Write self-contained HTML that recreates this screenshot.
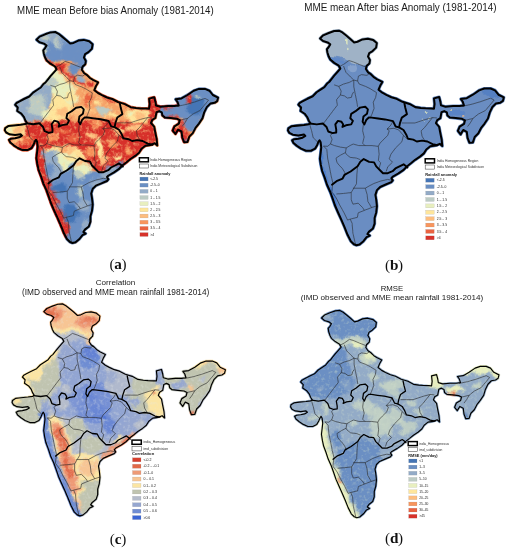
<!DOCTYPE html><html><head><meta charset="utf-8"><title>Figure</title>
<style>html,body{margin:0;padding:0;background:#fff}svg{display:block}text{font-family:"Liberation Sans",sans-serif}.ser{font-family:"Liberation Serif",serif}</style></head><body>
<svg width="510" height="550" viewBox="0 0 510 550">
<defs>
<path id="india" d="M36.5 39.7 L39.6 36.6 L45.1 34.3 L50.5 32.4 L55.2 32.0 L58.6 33.8 L62.1 36.6 L66.1 39.9 L70.2 43.6 L73.5 42.9 L78.4 40.6 L83.7 39.9 L89.1 41.3 L92.6 44.2 L91.9 48.7 L88.4 52.1 L85.1 54.1 L83.9 57.5 L85.8 60.9 L85.3 64.2 L82.6 66.6 L81.8 69.7 L84.0 73.0 L86.7 74.8 L90.0 78.0 L93.0 79.9 L98.1 82.4 L96.0 86.0 L94.3 90.1 L98.0 93.0 L102.0 95.2 L107.0 97.5 L112.2 99.0 L118.0 102.0 L124.9 104.1 L130.6 107.2 L136.0 108.0 L140.8 108.4 L146.0 108.6 L149.1 108.7 L149.7 104.2 L149.1 98.6 L154.2 97.3 L155.4 101.8 L156.0 105.5 L160.5 106.8 L168.0 106.1 L174.3 106.1 L178.7 105.5 L177.5 101.8 L175.6 99.2 L181.5 98.4 L187.5 95.0 L193.7 90.7 L198.9 88.9 L205.0 88.9 L209.4 90.7 L212.8 95.0 L218.1 97.6 L217.2 101.1 L214.6 102.8 L210.3 103.6 L206.8 107.1 L204.2 112.4 L202.4 118.4 L198.9 123.6 L195.5 127.9 L192.8 133.1 L189.3 136.6 L187.5 141.9 L184.1 142.2 L182.3 137.5 L181.5 131.5 L178.0 129.7 L175.4 134.0 L172.7 130.6 L174.5 126.3 L178.9 123.6 L179.7 120.2 L176.8 118.7 L170.6 118.0 L164.8 117.4 L162.4 115.5 L161.8 112.4 L159.2 111.1 L156.5 112.2 L156.0 114.8 L155.4 118.0 L152.3 119.9 L151.0 123.0 L154.2 126.7 L155.4 133.0 L156.7 139.3 L157.3 145.5 L154.8 143.3 L150.9 144.9 L145.4 145.7 L141.5 148.8 L139.1 152.7 L135.2 155.9 L130.5 159.0 L126.6 162.2 L122.6 165.3 L118.7 169.2 L114.0 172.4 L108.5 175.5 L107.0 177.0 L108.4 179.3 L106.9 181.0 L101.4 183.3 L95.9 185.7 L92.7 188.8 L91.2 193.5 L92.0 198.2 L92.7 204.5 L92.0 210.8 L90.4 216.3 L90.4 221.8 L88.8 226.5 L84.9 229.6 L83.3 232.0 L85.7 233.5 L82.5 235.1 L79.4 239.0 L75.5 242.2 L72.5 243.0 L70.0 242.0 L66.9 239.0 L63.7 232.7 L60.6 224.9 L57.5 217.8 L54.3 210.8 L51.2 203.7 L48.8 196.7 L46.5 190.4 L43.3 183.3 L41.0 176.3 L38.6 170.0 L37.3 164.0 L36.4 158.0 L37.1 152.2 L37.7 146.7 L37.1 141.8 L36.0 139.8 L35.0 141.2 L33.6 144.6 L31.6 148.0 L27.5 150.1 L22.6 150.1 L17.8 148.0 L13.7 145.3 L10.3 142.5 L8.9 139.8 L11.0 138.7 L15.1 138.2 L19.2 137.3 L22.0 135.6 L20.6 134.2 L15.1 135.0 L9.6 134.3 L6.2 132.5 L4.8 130.2 L5.2 128.1 L8.2 126.1 L13.7 125.4 L20.6 124.7 L25.4 124.0 L27.0 123.0 L25.4 120.6 L24.0 117.2 L21.3 113.7 L17.2 111.0 L17.8 107.5 L15.1 104.8 L16.5 103.0 L19.1 101.6 L24.0 99.0 L29.3 96.5 L33.1 92.6 L37.0 90.0 L40.8 87.5 L43.5 84.0 L45.5 82.5 L47.8 79.6 L50.5 76.2 L53.9 72.4 L56.6 69.3 L55.0 66.5 L50.5 63.7 L46.6 60.4 L45.1 57.5 L43.8 53.5 L43.3 50.3 L45.1 48.1 L46.6 45.5 L44.0 43.6 L39.5 42.2Z"/>
<clipPath id="cp"><use href="#india"/></clipPath>
<mask id="mk1" maskUnits="userSpaceOnUse" x="0" y="20" width="230" height="235"><use href="#india" fill="#fff" stroke="#fff" stroke-width="3.2" stroke-linejoin="round"/></mask>
<mask id="mk2" maskUnits="userSpaceOnUse" x="0" y="20" width="230" height="235"><use href="#india" fill="#fff" stroke="#fff" stroke-width="2.6" stroke-linejoin="round"/></mask>
<filter id="bl1" x="0" y="0" width="100%" height="100%" color-interpolation-filters="sRGB"><feGaussianBlur stdDeviation="0.9" result="b"/><feTurbulence type="fractalNoise" baseFrequency="0.11" numOctaves="3" seed="4" result="n1"/><feDisplacementMap in="b" in2="n1" scale="9" xChannelSelector="R" yChannelSelector="G" result="d"/><feTurbulence type="fractalNoise" baseFrequency="0.3" numOctaves="2" seed="11" result="n2"/><feColorMatrix in="n2" type="matrix" values="0 0 0 0 1  0 0 0 0 0.86  0 0 0 0 0.58  0 0 0 1.6 -0.8" result="n3"/><feColorMatrix in="d" type="matrix" values="0 0 0 0 0  0 0 0 0 0  0 0 0 0 0  1.6 0 -1.0 0 0.12" result="wm"/><feComposite in="n3" in2="wm" operator="in" result="n4"/><feComposite in="n4" in2="d" operator="atop" result="m"/><feGaussianBlur in="m" stdDeviation="0.55"/></filter>
<filter id="blc" x="0" y="0" width="100%" height="100%" color-interpolation-filters="sRGB"><feGaussianBlur stdDeviation="0.9" result="b"/><feTurbulence type="fractalNoise" baseFrequency="0.11" numOctaves="3" seed="5" result="n1"/><feDisplacementMap in="b" in2="n1" scale="9" xChannelSelector="R" yChannelSelector="G" result="d"/><feTurbulence type="fractalNoise" baseFrequency="0.3" numOctaves="2" seed="11" result="n2"/><feColorMatrix in="n2" type="matrix" values="0 0 0 0 0.9  0 0 0 0 0.91  0 0 0 0 0.9  0 0 0 1.0 -0.5" result="n3"/><feOffset in="n3" result="n4"/><feComposite in="n4" in2="d" operator="atop" result="m"/><feGaussianBlur in="m" stdDeviation="0.55"/></filter>
<filter id="bld" x="0" y="0" width="100%" height="100%" color-interpolation-filters="sRGB"><feGaussianBlur stdDeviation="0.9" result="b"/><feTurbulence type="fractalNoise" baseFrequency="0.11" numOctaves="3" seed="6" result="n1"/><feDisplacementMap in="b" in2="n1" scale="9" xChannelSelector="R" yChannelSelector="G" result="d"/><feTurbulence type="fractalNoise" baseFrequency="0.3" numOctaves="2" seed="11" result="n2"/><feColorMatrix in="n2" type="matrix" values="0 0 0 0 0.82  0 0 0 0 0.88  0 0 0 0 0.8  0 0 0 1.1 -0.56" result="n3"/><feOffset in="n3" result="n4"/><feComposite in="n4" in2="d" operator="atop" result="m"/><feGaussianBlur in="m" stdDeviation="0.55"/></filter>
<filter id="bl0" x="0" y="0" width="100%" height="100%" color-interpolation-filters="sRGB"><feGaussianBlur stdDeviation="0.5" result="b"/><feTurbulence type="fractalNoise" baseFrequency="0.15" numOctaves="3" seed="9" result="n1"/><feDisplacementMap in="b" in2="n1" scale="5" xChannelSelector="R" yChannelSelector="G"/></filter>
<filter id="bl2" x="-20%" y="-20%" width="140%" height="140%"><feGaussianBlur stdDeviation="2.2"/></filter>
<filter id="soft" x="-5%" y="-5%" width="110%" height="110%"><feGaussianBlur stdDeviation="0.35"/></filter>
</defs>
<rect width="510" height="550" fill="#fff"/>
<g transform="translate(0 0) scale(1.0 1.0)">
<g mask="url(#mk1)">
<g filter="url(#bl1)">
<rect x="0" y="20" width="230" height="235" fill="#f29a63"/>
<path d="M78.0 84.0 L96.0 82.0 L100.0 96.0 L124.0 104.0 L150.0 108.0 L152.0 124.0 L124.0 124.0 L100.0 120.0 L84.0 118.0 L72.0 120.0 L66.0 108.0 L70.0 96.0Z" fill="#f6a368"/>
<ellipse cx="103" cy="110" rx="7" ry="4" fill="#bccbc4"/>
<ellipse cx="97" cy="103" rx="4" ry="2.5" fill="#fee69c"/>
<ellipse cx="113" cy="115" rx="6" ry="2.5" fill="#fee69c"/>
<ellipse cx="88" cy="98" rx="4" ry="6" fill="#ea6240"/>
<ellipse cx="92" cy="112" rx="4" ry="3" fill="#fdbd7e"/>
<path d="M96.0 91.0 L110.0 99.0 L128.0 105.5 L148.0 109.0" fill="none" stroke="#ea6240" stroke-width="4" stroke-linecap="round" stroke-linejoin="round"/>
<path d="M100.0 94.0 L114.0 101.0" fill="none" stroke="#d7302a" stroke-width="2" stroke-linecap="round" stroke-linejoin="round"/>
<path d="M126.0 109.0 L149.0 111.0 L150.0 121.0 L128.0 122.0Z" fill="#fee69c"/>
<ellipse cx="140" cy="116" rx="6" ry="3" fill="#fdbd7e"/>
<ellipse cx="131" cy="113" rx="3" ry="2" fill="#e8efbf"/>
<path d="M44.0 74.0 L56.0 66.0 L66.0 76.0 L76.0 88.0 L80.0 102.0 L70.0 106.0 L60.0 102.0 L50.0 94.0 L40.0 92.0Z" fill="#e8efbf"/>
<ellipse cx="50" cy="82" rx="7" ry="6" fill="#bccbc4"/>
<ellipse cx="72" cy="96" rx="5" ry="7" fill="#fee69c"/>
<path d="M12.0 100.0 L30.0 90.0 L42.0 82.0 L50.0 90.0 L52.0 102.0 L48.0 112.0 L38.0 120.0 L24.0 123.0 L14.0 114.0Z" fill="#93abc7"/>
<ellipse cx="36" cy="106" rx="10" ry="8" fill="#bccbc4"/>
<ellipse cx="40" cy="98" rx="5" ry="5" fill="#bccbc4"/>
<ellipse cx="24" cy="102" rx="6" ry="4" fill="#93abc7"/>
<ellipse cx="46" cy="114" rx="5" ry="5" fill="#e8efbf"/>
<path d="M52.0 94.0 L64.0 98.0 L72.0 108.0 L68.0 118.0 L56.0 121.0 L46.0 121.0 L51.0 108.0Z" fill="#fee69c"/>
<ellipse cx="62" cy="112" rx="6" ry="5" fill="#fdbd7e"/>
<path d="M22.0 124.0 L40.0 121.0 L56.0 123.0 L70.0 119.0 L82.0 123.0 L100.0 119.0 L122.0 123.0 L152.0 124.0 L158.0 140.0 L142.0 152.0 L124.0 166.0 L110.0 170.0 L98.0 170.0 L88.0 164.0 L82.0 156.0 L78.0 148.0 L66.0 146.0 L56.0 146.0 L46.0 150.0 L40.0 160.0 L34.0 152.0 L28.0 150.0 L22.0 142.0Z" fill="#d7302a"/>
<ellipse cx="78" cy="112" rx="7" ry="5" fill="#fdbd7e"/>
<ellipse cx="84" cy="108" rx="4" ry="3" fill="#fee69c"/>
<ellipse cx="62" cy="132" rx="7" ry="3" fill="#ea6240"/>
<ellipse cx="74" cy="138" rx="6" ry="4" fill="#ea6240"/>
<ellipse cx="52" cy="138" rx="5" ry="4" fill="#f8955d"/>
<path d="M46.0 150.0 L56.0 145.0 L68.0 146.0 L78.0 148.0 L85.0 154.0 L85.0 162.0 L78.0 168.0 L66.0 172.0 L58.0 168.0 L52.0 160.0Z" fill="#fee69c"/>
<ellipse cx="70" cy="150" rx="8" ry="3.5" fill="#fdbd7e"/>
<ellipse cx="62" cy="150" rx="4" ry="3" fill="#f8955d"/>
<ellipse cx="80" cy="160" rx="4" ry="5" fill="#fdbd7e"/>
<ellipse cx="100" cy="148" rx="3.5" ry="12" fill="#fee69c"/>
<ellipse cx="92" cy="136" rx="5" ry="4" fill="#fdbd7e"/>
<ellipse cx="112" cy="142" rx="5" ry="6" fill="#f8955d"/>
<ellipse cx="120" cy="132" rx="6" ry="3" fill="#fdbd7e"/>
<ellipse cx="134" cy="128" rx="8" ry="3.5" fill="#fdbd7e"/>
<ellipse cx="128" cy="150" rx="4" ry="5" fill="#f8955d"/>
<ellipse cx="90" cy="152" rx="4" ry="5" fill="#f8955d"/>
<ellipse cx="105" cy="160" rx="4" ry="4" fill="#fdbd7e"/>
<ellipse cx="118" cy="158" rx="4" ry="3" fill="#fee69c"/>
<ellipse cx="96" cy="124" rx="6" ry="3" fill="#f8955d"/>
<ellipse cx="146" cy="132" rx="6" ry="8" fill="#d7302a"/>
<ellipse cx="152" cy="118" rx="3" ry="8" fill="#d7302a"/>
<path d="M3.0 125.0 L24.0 122.0 L26.0 136.0 L6.0 137.0Z" fill="#fee69c"/>
<ellipse cx="19" cy="130" rx="5" ry="4" fill="#fdbd7e"/>
<ellipse cx="9" cy="129" rx="3" ry="3" fill="#e8efbf"/>
<path d="M7.0 138.0 L22.0 136.0 L36.0 138.0 L36.0 150.0 L24.0 153.0 L12.0 148.0Z" fill="#ea6240"/>
<ellipse cx="18" cy="141" rx="7" ry="3" fill="#fdbd7e"/>
<ellipse cx="24" cy="147" rx="7" ry="3" fill="#d7302a"/>
<path d="M26.0 124.0 L42.0 123.0 L46.0 138.0 L42.0 152.0 L36.0 150.0 L34.0 138.0Z" fill="#d7302a"/>
<path d="M43.0 152.0 L56.0 150.0 L60.0 160.0 L62.0 172.0 L57.0 180.0 L50.0 185.0 L45.0 176.0 L42.0 164.0Z" fill="#93abc7"/>
<ellipse cx="50" cy="170" rx="4" ry="8" fill="#6b8fc3"/>
<path d="M55.0 152.0 L70.0 153.0 L79.0 159.0 L77.0 167.0 L66.0 171.0 L60.0 168.0Z" fill="#e8efbf"/>
<ellipse cx="70" cy="158" rx="5" ry="3" fill="#fee69c"/>
<path d="M42.0 186.0 L50.0 183.0 L58.0 178.0 L62.0 172.0 L70.0 166.0 L76.0 160.0 L84.0 163.0 L92.0 171.0 L100.0 172.0 L108.0 166.0 L116.0 164.0 L126.0 164.0 L112.0 180.0 L98.0 192.0 L97.0 215.0 L90.0 235.0 L72.0 248.0 L58.0 232.0 L48.0 205.0Z" fill="#6b8fc3"/>
<ellipse cx="84" cy="168" rx="9" ry="6" fill="#e8efbf"/>
<ellipse cx="80" cy="162" rx="5" ry="3" fill="#fdbd7e"/>
<ellipse cx="78" cy="176" rx="6" ry="5" fill="#bccbc4"/>
<ellipse cx="108" cy="172" rx="10" ry="4" fill="#93abc7" transform="rotate(-30 108 172)"/>
<ellipse cx="96" cy="184" rx="6" ry="5" fill="#93abc7"/>
<ellipse cx="80" cy="192" rx="3" ry="6" fill="#bccbc4"/>
<ellipse cx="60" cy="188" rx="7" ry="6" fill="#4575b5"/>
<ellipse cx="70" cy="214" rx="8" ry="10" fill="#4575b5" transform="rotate(20 70 214)"/>
<ellipse cx="84" cy="206" rx="6" ry="8" fill="#93abc7"/>
<ellipse cx="86" cy="225" rx="4" ry="6" fill="#93abc7"/>
<path d="M36.4 150.0 L36.4 158.0 L37.3 164.0 L38.6 170.0 L41.0 176.3 L43.3 183.3 L46.5 190.4 L48.8 196.7 L51.2 203.7 L54.3 210.8 L57.5 217.8 L60.6 224.9 L63.7 232.7" fill="none" stroke="#d7302a" stroke-width="12" stroke-linecap="round" stroke-linejoin="round"/>
<path d="M38.0 148.0 L39.0 158.0 L40.5 166.0 L43.0 174.0 L46.0 182.0 L49.0 190.0" fill="none" stroke="#d7302a" stroke-width="8" stroke-linecap="round" stroke-linejoin="round"/>
<path d="M37.0 146.0 L36.4 152.0" fill="none" stroke="#d7302a" stroke-width="8" stroke-linecap="round" stroke-linejoin="round"/>
<path d="M28.0 26.0 L100.0 26.0 L100.0 58.0 L88.0 62.0 L82.0 66.0 L72.0 61.0 L64.0 59.0 L54.0 62.0 L46.0 58.0 L28.0 50.0Z" fill="#6b8fc3"/>
<path d="M32.0 38.0 L42.0 32.0 L52.0 29.0 L60.0 32.0 L63.0 40.0 L61.0 54.0 L56.0 50.0 L52.0 44.0 L46.0 46.0 L40.0 44.0Z" fill="#93abc7"/>
<ellipse cx="50" cy="46" rx="4" ry="6" fill="#6b8fc3"/>
<ellipse cx="44" cy="50" rx="3" ry="4" fill="#bccbc4"/>
<ellipse cx="57.5" cy="44" rx="2.2" ry="8" fill="#bccbc4"/>
<ellipse cx="45" cy="39" rx="4" ry="2.5" fill="#bccbc4"/>
<ellipse cx="82" cy="80" rx="3.5" ry="4.5" fill="#93abc7"/>
<ellipse cx="74.5" cy="70.5" rx="5.5" ry="7" fill="#6b8fc3"/>
<ellipse cx="81" cy="66" rx="3" ry="3" fill="#6b8fc3"/>
<path d="M47.0 61.0 L56.0 67.0 L66.0 74.0 L76.0 82.0 L84.0 87.0" fill="none" stroke="#d7302a" stroke-width="3" stroke-linecap="round" stroke-linejoin="round"/>
<ellipse cx="62" cy="67" rx="4.5" ry="4" fill="#d7302a"/>
<ellipse cx="91" cy="84" rx="3.5" ry="3" fill="#d7302a"/>
<path d="M58.0 72.0 L68.0 80.0 L78.0 88.0" fill="none" stroke="#fdbd7e" stroke-width="2.5" stroke-linecap="round" stroke-linejoin="round"/>
<path d="M160.0 100.0 L175.0 96.0 L190.0 88.0 L210.0 84.0 L222.0 96.0 L210.0 108.0 L202.0 120.0 L192.0 132.0 L184.0 128.0 L182.0 118.0 L160.0 117.0 L156.0 110.0Z" fill="#6b8fc3"/>
<ellipse cx="196" cy="106" rx="10" ry="8" fill="#4575b5" transform="rotate(-40 196 106)"/>
<ellipse cx="189" cy="99" rx="3.2" ry="4.5" fill="#d7302a"/>
<ellipse cx="198" cy="96.5" rx="2.5" ry="2" fill="#bccbc4"/>
<path d="M150.0 108.0 L158.0 106.5 L168.0 106.5 L177.0 105.5" fill="none" stroke="#d7302a" stroke-width="3" stroke-linecap="round" stroke-linejoin="round"/>
<path d="M148.0 96.0 L160.0 96.0 L160.0 112.0 L148.0 112.0Z" fill="#d7302a"/>
<path d="M164.0 116.5 L178.0 117.5" fill="none" stroke="#d7302a" stroke-width="2.5" stroke-linecap="round" stroke-linejoin="round"/>
<path d="M170.0 120.0 L182.0 120.0 L184.0 130.0 L190.0 140.0 L184.0 144.0 L176.0 134.0 L170.0 132.0Z" fill="#d7302a"/>
<ellipse cx="177" cy="125" rx="3" ry="2.5" fill="#fdbd7e"/>
<ellipse cx="186" cy="139" rx="2" ry="2" fill="#6b8fc3"/>
</g>
</g>
<g filter="url(#soft)"><g fill="none" stroke="#222" stroke-width="0.55" stroke-linejoin="round">
<path d="M55.0 67.6 L59.7 65.2 L65.1 61.4 L69.8 62.9 L75.2 65.2 L81.4 67.6 L84.5 66.0"/>
<path d="M59.7 66.8 L62.1 73.0 L66.7 77.6 L69.8 80.6 L69.8 86.8 L71.3 94.5 L72.9 102.2 L73.6 106.9"/>
<path d="M73.6 81.5 L74.4 76.8 L77.5 75.2 L82.9 76.0 L85.9 73.6"/>
<path d="M69.8 80.6 L73.6 81.5 L75.2 84.5 L81.4 86.8 L86.1 89.1 L92.3 92.9"/>
<path d="M50.4 85.3 L55.0 86.8 L59.7 84.5 L65.1 83.0 L69.8 80.6"/>
<path d="M55.0 86.8 L57.4 91.4 L56.6 95.3 L60.5 96.1 L63.6 98.3 L67.5 97.6 L68.3 94.5 L69.8 92.2"/>
<path d="M56.6 95.3 L52.8 99.9 L53.6 105.3 L48.8 111.5 L44.2 117.6 L39.5 123.8"/>
<path d="M92.3 92.9 L91.5 97.6 L89.1 102.3 L89.9 108.4 L87.6 114.6 L86.1 117.6"/>
<path d="M117.3 122.8 L123.4 122.8 L130.3 122.8 L135.6 121.0 L140.8 119.3 L147.7 117.5 L152.1 117.9"/>
<path d="M147.7 117.5 L144.2 121.8 L139.9 127.1 L136.4 130.6 L137.3 135.8 L139.9 140.1"/>
<path d="M79.3 124.2 L78.6 130.4 L80.1 136.6 L78.6 142.7 L80.9 145.0"/>
<path d="M46.8 143.5 L50.7 145.0 L56.9 146.6 L62.4 147.3 L66.2 145.0 L69.3 143.5 L74.7 145.0 L80.9 145.0 L87.9 145.0 L94.1 145.8 L95.7 142.7 L98.7 139.6 L103.4 135.0 L104.9 130.4 L102.7 128.8 L109.6 128.0 L114.2 129.6"/>
<path d="M108.6 121.0 L106.6 124.8 L102.7 128.8"/>
<path d="M48.9 132.8 L46.8 135.0 L48.4 138.8 L46.8 143.5"/>
<path d="M46.8 143.5 L43.8 145.8 L39.9 145.4"/>
<path d="M62.4 147.3 L61.6 151.9 L56.9 154.3 L52.3 157.3 L53.1 161.3 L55.3 164.3 L58.5 167.4 L60.8 171.3 L61.6 174.3"/>
<path d="M61.6 151.9 L62.4 153.5 L66.2 156.6 L72.4 157.3 L76.3 158.9"/>
<path d="M94.1 145.8 L94.9 153.5 L94.1 159.7 L96.4 161.9 L94.8 167.6"/>
<path d="M114.2 129.6 L118.9 135.0 L117.4 141.2 L111.2 147.3 L106.5 153.5 L104.9 158.1 L108.1 161.3 L103.4 165.9 L101.9 170.5"/>
<path d="M118.9 135.0 L122.4 138.3"/>
<path d="M26.3 124.2 L28.1 130.3 L29.7 137.2 L34.1 141.5"/>
<path d="M39.9 145.4 L43.2 148.8 L44.0 157.4 L45.8 166.1 L47.5 174.8 L49.2 181.8"/>
<path d="M73.6 165.3 L72.8 174.8 L72.5 182.6 L69.9 186.9 L67.3 191.2 L67.3 198.2 L69.0 202.6 L74.2 201.7 L78.6 206.0 L80.3 208.7 L74.2 211.2 L73.4 215.6 L66.4 217.3 L68.2 221.6 L69.0 231.2 L71.6 242.5"/>
<path d="M69.0 186.9 L81.2 186.9 L89.0 182.6 L96.0 180.0 L103.3 178.3 L108.5 179.2"/>
<path d="M81.2 186.9 L83.0 193.0 L83.8 200.0 L87.4 206.0 L92.6 204.3"/>
<path d="M80.3 208.7 L87.4 206.0"/>
<path d="M49.2 181.8 L48.1 190.5 L52.5 196.5 L55.9 203.4 L60.3 211.2 L63.7 218.2 L66.4 217.3"/>
<path d="M67.3 191.2 L59.7 192.1 L52.8 192.6"/>
<path d="M177.2 106.3 L185.9 104.5 L194.6 102.0 L205.0 98.4 L208.5 100.2 L204.2 105.4 L199.8 110.6 L192.8 114.1 L187.5 118.4 L185.0 122.7 L182.3 126.3"/>
<path d="M179.7 120.2 L187.5 118.4"/>
</g>
<g fill="none" stroke="#000" stroke-width="1.9" stroke-linejoin="round" stroke-linecap="round">
<path d="M26.3 123.3 L33.3 124.2 L39.3 123.3 L42.9 126.7 L44.6 131.2 L48.9 132.8 L52.5 132.1 L52.5 129.4 L51.6 124.2 L54.2 120.7 L57.7 121.6 L59.4 124.2 L58.6 126.7 L62.1 125.1 L67.3 124.2 L69.0 120.7 L66.4 118.1 L67.3 113.8 L71.6 111.2 L76.0 107.7 L81.2 106.9 L83.8 109.4 L82.9 113.8 L79.4 116.4 L78.6 121.6 L80.3 124.2 L82.1 119.9 L84.7 117.4 L87.6 117.5 L93.8 118.4 L100.7 119.3 L108.6 121.0 L111.2 126.3 L114.6 127.1"/>
<path d="M119.9 103.6 L120.8 108.1 L122.4 114.1 L117.3 117.5 L115.5 122.8 L114.6 127.1 L119.0 129.7 L121.6 134.0 L123.4 138.3 L128.6 139.2 L132.1 141.0 L137.3 140.1 L142.6 141.0 L147.7 143.6 L152.6 144.7"/>
<path d="M48.3 183.5 L52.8 180.0 L58.8 177.4 L60.6 173.9 L66.7 170.5 L73.6 165.3 L76.3 161.0 L79.7 158.3 L85.0 161.0 L89.9 161.5 L92.0 165.5 L96.0 169.5 L98.7 172.2 L103.5 172.2 L108.2 170.2 L111.0 167.5 L115.0 165.5 L119.1 163.4 L121.8 165.5 L122.9 166.6"/>
</g>
<use href="#india" fill="none" stroke="#000" stroke-width="2.0" stroke-linejoin="round"/></g>
</g>
<g transform="translate(283.1 -1.9) scale(1.012 1.017)">
<g mask="url(#mk1)">
<g filter="url(#bl0)">
<rect x="0" y="20" width="230" height="235" fill="#6a8dc2"/>
<path d="M28.0 26.0 L100.0 26.0 L100.0 60.0 L88.0 66.0 L80.0 66.5 L72.0 64.5 L66.0 62.5 L62.0 59.5 L54.0 58.0 L46.0 57.0 L40.0 54.0 L28.0 50.0Z" fill="#9fb2c6"/>
<path d="M47.0 59.5 L55.0 61.0 L61.0 63.5" fill="none" stroke="#5f88c8" stroke-width="3" stroke-linecap="round" stroke-linejoin="round"/>
<ellipse cx="69" cy="69" rx="4" ry="4" fill="#86a2cc"/>
<ellipse cx="63" cy="43" rx="0.7" ry="2.6" fill="#e8efbf"/>
<ellipse cx="64" cy="50" rx="0.6" ry="1.2" fill="#e8efbf"/>
<path d="M36.4 150.0 L36.4 158.0 L37.3 164.0 L38.6 170.0 L41.0 176.3 L43.3 183.3 L46.5 190.4 L48.8 196.7 L51.2 203.7" fill="none" stroke="#4f80cc" stroke-width="5" stroke-linecap="round" stroke-linejoin="round"/>
<ellipse cx="205" cy="93" rx="9" ry="5" fill="#5580c2" transform="rotate(25 205 93)"/>
<ellipse cx="172" cy="113" rx="8" ry="3.5" fill="#5a84c6"/>
<ellipse cx="166" cy="111" rx="1" ry="0.8" fill="#fee69c"/>
<ellipse cx="178" cy="116" rx="1.2" ry="0.8" fill="#fdbd7e"/>
<ellipse cx="141" cy="112" rx="1.0" ry="0.8" fill="#e8efbf"/>
<ellipse cx="144" cy="118" rx="1.2" ry="0.8" fill="#bccbc4"/>
<ellipse cx="138" cy="120" rx="1.0" ry="0.8" fill="#bccbc4"/>
</g>
</g>
<g filter="url(#soft)"><g fill="none" stroke="#222" stroke-width="0.55" stroke-linejoin="round">
<path d="M55.0 67.6 L59.7 65.2 L65.1 61.4 L69.8 62.9 L75.2 65.2 L81.4 67.6 L84.5 66.0"/>
<path d="M59.7 66.8 L62.1 73.0 L66.7 77.6 L69.8 80.6 L69.8 86.8 L71.3 94.5 L72.9 102.2 L73.6 106.9"/>
<path d="M73.6 81.5 L74.4 76.8 L77.5 75.2 L82.9 76.0 L85.9 73.6"/>
<path d="M69.8 80.6 L73.6 81.5 L75.2 84.5 L81.4 86.8 L86.1 89.1 L92.3 92.9"/>
<path d="M50.4 85.3 L55.0 86.8 L59.7 84.5 L65.1 83.0 L69.8 80.6"/>
<path d="M55.0 86.8 L57.4 91.4 L56.6 95.3 L60.5 96.1 L63.6 98.3 L67.5 97.6 L68.3 94.5 L69.8 92.2"/>
<path d="M56.6 95.3 L52.8 99.9 L53.6 105.3 L48.8 111.5 L44.2 117.6 L39.5 123.8"/>
<path d="M92.3 92.9 L91.5 97.6 L89.1 102.3 L89.9 108.4 L87.6 114.6 L86.1 117.6"/>
<path d="M117.3 122.8 L123.4 122.8 L130.3 122.8 L135.6 121.0 L140.8 119.3 L147.7 117.5 L152.1 117.9"/>
<path d="M147.7 117.5 L144.2 121.8 L139.9 127.1 L136.4 130.6 L137.3 135.8 L139.9 140.1"/>
<path d="M79.3 124.2 L78.6 130.4 L80.1 136.6 L78.6 142.7 L80.9 145.0"/>
<path d="M46.8 143.5 L50.7 145.0 L56.9 146.6 L62.4 147.3 L66.2 145.0 L69.3 143.5 L74.7 145.0 L80.9 145.0 L87.9 145.0 L94.1 145.8 L95.7 142.7 L98.7 139.6 L103.4 135.0 L104.9 130.4 L102.7 128.8 L109.6 128.0 L114.2 129.6"/>
<path d="M108.6 121.0 L106.6 124.8 L102.7 128.8"/>
<path d="M48.9 132.8 L46.8 135.0 L48.4 138.8 L46.8 143.5"/>
<path d="M46.8 143.5 L43.8 145.8 L39.9 145.4"/>
<path d="M62.4 147.3 L61.6 151.9 L56.9 154.3 L52.3 157.3 L53.1 161.3 L55.3 164.3 L58.5 167.4 L60.8 171.3 L61.6 174.3"/>
<path d="M61.6 151.9 L62.4 153.5 L66.2 156.6 L72.4 157.3 L76.3 158.9"/>
<path d="M94.1 145.8 L94.9 153.5 L94.1 159.7 L96.4 161.9 L94.8 167.6"/>
<path d="M114.2 129.6 L118.9 135.0 L117.4 141.2 L111.2 147.3 L106.5 153.5 L104.9 158.1 L108.1 161.3 L103.4 165.9 L101.9 170.5"/>
<path d="M118.9 135.0 L122.4 138.3"/>
<path d="M26.3 124.2 L28.1 130.3 L29.7 137.2 L34.1 141.5"/>
<path d="M39.9 145.4 L43.2 148.8 L44.0 157.4 L45.8 166.1 L47.5 174.8 L49.2 181.8"/>
<path d="M73.6 165.3 L72.8 174.8 L72.5 182.6 L69.9 186.9 L67.3 191.2 L67.3 198.2 L69.0 202.6 L74.2 201.7 L78.6 206.0 L80.3 208.7 L74.2 211.2 L73.4 215.6 L66.4 217.3 L68.2 221.6 L69.0 231.2 L71.6 242.5"/>
<path d="M69.0 186.9 L81.2 186.9 L89.0 182.6 L96.0 180.0 L103.3 178.3 L108.5 179.2"/>
<path d="M81.2 186.9 L83.0 193.0 L83.8 200.0 L87.4 206.0 L92.6 204.3"/>
<path d="M80.3 208.7 L87.4 206.0"/>
<path d="M49.2 181.8 L48.1 190.5 L52.5 196.5 L55.9 203.4 L60.3 211.2 L63.7 218.2 L66.4 217.3"/>
<path d="M67.3 191.2 L59.7 192.1 L52.8 192.6"/>
<path d="M177.2 106.3 L185.9 104.5 L194.6 102.0 L205.0 98.4 L208.5 100.2 L204.2 105.4 L199.8 110.6 L192.8 114.1 L187.5 118.4 L185.0 122.7 L182.3 126.3"/>
<path d="M179.7 120.2 L187.5 118.4"/>
</g>
<g fill="none" stroke="#000" stroke-width="1.9" stroke-linejoin="round" stroke-linecap="round">
<path d="M26.3 123.3 L33.3 124.2 L39.3 123.3 L42.9 126.7 L44.6 131.2 L48.9 132.8 L52.5 132.1 L52.5 129.4 L51.6 124.2 L54.2 120.7 L57.7 121.6 L59.4 124.2 L58.6 126.7 L62.1 125.1 L67.3 124.2 L69.0 120.7 L66.4 118.1 L67.3 113.8 L71.6 111.2 L76.0 107.7 L81.2 106.9 L83.8 109.4 L82.9 113.8 L79.4 116.4 L78.6 121.6 L80.3 124.2 L82.1 119.9 L84.7 117.4 L87.6 117.5 L93.8 118.4 L100.7 119.3 L108.6 121.0 L111.2 126.3 L114.6 127.1"/>
<path d="M119.9 103.6 L120.8 108.1 L122.4 114.1 L117.3 117.5 L115.5 122.8 L114.6 127.1 L119.0 129.7 L121.6 134.0 L123.4 138.3 L128.6 139.2 L132.1 141.0 L137.3 140.1 L142.6 141.0 L147.7 143.6 L152.6 144.7"/>
<path d="M48.3 183.5 L52.8 180.0 L58.8 177.4 L60.6 173.9 L66.7 170.5 L73.6 165.3 L76.3 161.0 L79.7 158.3 L85.0 161.0 L89.9 161.5 L92.0 165.5 L96.0 169.5 L98.7 172.2 L103.5 172.2 L108.2 170.2 L111.0 167.5 L115.0 165.5 L119.1 163.4 L121.8 165.5 L122.9 166.6"/>
</g>
<use href="#india" fill="none" stroke="#000" stroke-width="2.0" stroke-linejoin="round"/></g>
</g>
<g transform="translate(7.3 271.7) scale(1.0 1.005)">
<g mask="url(#mk2)">
<g filter="url(#blc)">
<rect x="0" y="20" width="230" height="235" fill="#b5bccb"/>
<path d="M2.0 124.0 L14.0 98.0 L30.0 88.0 L44.0 80.0 L52.0 92.0 L52.0 108.0 L44.0 122.0 L42.0 136.0 L40.0 152.0 L22.0 152.0 L6.0 140.0Z" fill="#c0c4b0"/>
<path d="M46.0 80.0 L38.0 88.0 L30.0 94.0 L20.0 100.0 L15.0 106.0 L18.0 114.0 L22.0 120.0" fill="none" stroke="#fbe5a3" stroke-width="10" stroke-linecap="round" stroke-linejoin="round"/>
<ellipse cx="28" cy="102" rx="8" ry="6" fill="#fbe5a3" transform="rotate(-30 28 102)"/>
<ellipse cx="9" cy="129" rx="5" ry="3.5" fill="#fbe5a3"/>
<ellipse cx="38" cy="136" rx="4" ry="10" fill="#96a7d0"/>
<path d="M52.0 92.0 L62.0 72.0 L72.0 66.0 L84.0 76.0 L98.0 92.0 L100.0 104.0 L96.0 118.0 L104.0 122.0 L122.0 124.0 L128.0 134.0 L124.0 150.0 L112.0 164.0 L100.0 170.0 L92.0 168.0 L84.0 160.0 L76.0 150.0 L68.0 146.0 L58.0 144.0 L50.0 146.0 L44.0 136.0 L44.0 126.0 L50.0 118.0 L54.0 104.0Z" fill="#92a5d2"/>
<ellipse cx="58" cy="82" rx="7" ry="9" fill="#96a7d0"/>
<ellipse cx="86" cy="130" rx="19" ry="20" fill="#7690d4"/>
<ellipse cx="70" cy="126" rx="10" ry="8" fill="#7e96d4"/>
<ellipse cx="92" cy="140" rx="9" ry="8" fill="#6a87d4"/>
<ellipse cx="82" cy="124" rx="8" ry="5" fill="#6a87d4"/>
<ellipse cx="102" cy="152" rx="5" ry="9" fill="#6a87d4"/>
<ellipse cx="96" cy="146" rx="2.5" ry="2" fill="#4a70d5"/>
<ellipse cx="82" cy="86" rx="10" ry="11" fill="#6f8dd3"/>
<ellipse cx="84" cy="80" rx="6" ry="6" fill="#6482d4"/>
<ellipse cx="58" cy="116" rx="6" ry="5" fill="#b5bccb"/>
<ellipse cx="56" cy="132" rx="6" ry="6" fill="#b5bccb"/>
<path d="M100.0 96.0 L124.0 104.0 L150.0 108.0 L152.0 122.0 L140.0 140.0 L124.0 136.0 L122.0 124.0 L104.0 122.0 L98.0 116.0Z" fill="#c0c4b0"/>
<path d="M99.0 96.0 L124.0 104.0 L126.0 122.0 L104.0 122.0 L97.0 116.0Z" fill="#b0b9cd"/>
<ellipse cx="104" cy="104" rx="5" ry="6" fill="#96a7d0" opacity="0.7"/>
<ellipse cx="128" cy="130" rx="5" ry="4" fill="#96a7d0"/>
<path d="M141.0 119.0 L152.0 112.0 L156.0 128.0 L157.0 146.0 L147.0 147.0 L141.0 137.0 L137.0 127.0Z" fill="#fbe5a3"/>
<ellipse cx="147.5" cy="121" rx="1.6" ry="1.4" fill="#e26a4a"/>
<path d="M124.0 138.0 L142.0 140.0 L150.0 146.0 L140.0 152.0 L126.0 164.0 L114.0 166.0 L116.0 150.0Z" fill="#96a7d0"/>
<ellipse cx="132" cy="152" rx="6" ry="5" fill="#b5bccb"/>
<ellipse cx="154" cy="105" rx="6" ry="7" fill="#96a7d0"/>
<ellipse cx="70" cy="155" rx="10" ry="9" fill="#c0c4b0"/>
<ellipse cx="84" cy="172" rx="11" ry="9" fill="#c0c4b0"/>
<ellipse cx="62" cy="168" rx="6" ry="7" fill="#c0c4b0"/>
<path d="M60.0 184.0 L70.0 180.0 L92.0 184.0 L94.0 206.0 L82.0 211.0 L68.0 209.0 L60.0 196.0Z" fill="#fbe5a3"/>
<ellipse cx="80" cy="196" rx="9" ry="8" fill="#f7c594"/>
<ellipse cx="88" cy="192" rx="4" ry="6" fill="#f7c594"/>
<path d="M73.0 209.0 L95.0 206.0 L93.0 220.0 L87.0 232.0 L76.0 242.0 L72.0 226.0Z" fill="#c0c4b0"/>
<ellipse cx="70" cy="230" rx="3.5" ry="10" fill="#f7c594" transform="rotate(-15 70 230)"/>
<path d="M48.0 150.0 L51.0 158.0 L56.0 172.0 L58.0 188.0 L63.0 205.0 L68.0 217.0" fill="none" stroke="#fbe5a3" stroke-width="15" stroke-linecap="round" stroke-linejoin="round"/>
<path d="M49.0 153.0 L52.0 160.0 L56.0 172.0 L58.0 188.0 L63.0 205.0 L67.5 216.0" fill="none" stroke="#ee9a76" stroke-width="10" stroke-linecap="round" stroke-linejoin="round"/>
<ellipse cx="59" cy="188" rx="8" ry="7" fill="#ee9a76"/>
<path d="M50.0 157.0 L54.0 166.0 L57.0 178.0 L59.0 190.0 L63.0 202.0" fill="none" stroke="#e26a4a" stroke-width="4.5" stroke-linecap="round" stroke-linejoin="round"/>
<path d="M36.4 150.0 L36.4 158.0 L37.3 164.0 L38.6 170.0 L41.0 176.3 L43.3 183.3 L46.5 190.4 L48.8 196.7 L51.2 203.7 L54.3 210.8 L57.5 217.8 L60.6 224.9 L63.7 232.7 L66.9 239.0 L70.0 242.0" fill="none" stroke="#6f8dd3" stroke-width="10" stroke-linecap="round" stroke-linejoin="round"/>
<path d="M37.0 140.0 L36.4 152.0" fill="none" stroke="#6f8dd3" stroke-width="6" stroke-linecap="round" stroke-linejoin="round"/>
<path d="M126.0 163.0 L118.0 169.0 L110.0 174.0 L104.0 180.0 L98.0 184.0" fill="none" stroke="#ee9a76" stroke-width="6" stroke-linecap="round" stroke-linejoin="round"/>
<path d="M122.0 166.0 L112.0 173.0" fill="none" stroke="#e26a4a" stroke-width="2.5" stroke-linecap="round" stroke-linejoin="round"/>
<ellipse cx="112" cy="166" rx="4" ry="2" fill="#fbe5a3" transform="rotate(-35 112 166)"/>
<path d="M28.0 26.0 L100.0 26.0 L100.0 58.0 L88.0 62.0 L82.0 66.0 L72.0 61.0 L64.0 59.0 L54.0 62.0 L46.0 58.0 L28.0 50.0Z" fill="#f7c594"/>
<ellipse cx="47" cy="42" rx="10" ry="7" fill="#ee9a76"/>
<ellipse cx="45" cy="40" rx="6" ry="4" fill="#e26a4a" transform="rotate(20 45 40)" opacity="0.8"/>
<ellipse cx="80" cy="49" rx="12" ry="6" fill="#ee9a76"/>
<ellipse cx="82" cy="48" rx="8" ry="3.5" fill="#e26a4a" opacity="0.6"/>
<path d="M44.0 58.0 L54.0 60.5 L64.0 58.0 L74.0 60.0 L84.0 64.0" fill="none" stroke="#fbe5a3" stroke-width="4" stroke-linecap="round" stroke-linejoin="round"/>
<path d="M48.0 63.0 L56.0 64.0 L66.0 62.0 L74.0 64.0" fill="none" stroke="#b5bccb" stroke-width="3" stroke-linecap="round" stroke-linejoin="round"/>
<ellipse cx="81" cy="68" rx="2.5" ry="6" fill="#f7c594"/>
<path d="M158.0 100.0 L175.0 96.0 L190.0 86.0 L210.0 82.0 L224.0 96.0 L210.0 108.0 L202.0 120.0 L192.0 132.0 L190.0 144.0 L182.0 144.0 L170.0 134.0 L170.0 120.0 L160.0 118.0 L156.0 110.0Z" fill="#c0c4b0"/>
<ellipse cx="171" cy="113" rx="8" ry="4" fill="#96a7d0"/>
<ellipse cx="183" cy="114" rx="3" ry="3" fill="#f7c594"/>
<path d="M186.0 95.0 L192.0 91.0 L200.0 88.0 L208.0 88.0 L214.0 93.0 L218.0 98.0" fill="none" stroke="#fbe5a3" stroke-width="6" stroke-linecap="round" stroke-linejoin="round"/>
<ellipse cx="215" cy="97" rx="3.5" ry="3" fill="#f7c594"/>
<ellipse cx="200" cy="89" rx="3" ry="1.5" fill="#f7c594"/>
<ellipse cx="185" cy="140" rx="1.8" ry="2.5" fill="#e26a4a"/>
<ellipse cx="196" cy="105" rx="5" ry="2.5" fill="#b5bccb" transform="rotate(-35 196 105)"/>
</g>
</g>
<g filter="url(#soft)"><g fill="none" stroke="#222" stroke-width="0.6" stroke-linejoin="round">
<path d="M55.0 67.6 L59.7 65.2 L65.1 61.4 L69.8 62.9 L75.2 65.2 L81.4 67.6 L84.5 66.0"/>
<path d="M59.7 66.8 L62.1 73.0 L66.7 77.6 L69.8 80.6 L69.8 86.8 L71.3 94.5 L72.9 102.2 L73.6 106.9"/>
<path d="M73.6 81.5 L74.4 76.8 L77.5 75.2 L82.9 76.0 L85.9 73.6"/>
<path d="M69.8 80.6 L73.6 81.5 L75.2 84.5 L81.4 86.8 L86.1 89.1 L92.3 92.9"/>
<path d="M50.4 85.3 L55.0 86.8 L59.7 84.5 L65.1 83.0 L69.8 80.6"/>
<path d="M55.0 86.8 L57.4 91.4 L56.6 95.3 L60.5 96.1 L63.6 98.3 L67.5 97.6 L68.3 94.5 L69.8 92.2"/>
<path d="M56.6 95.3 L52.8 99.9 L53.6 105.3 L48.8 111.5 L44.2 117.6 L39.5 123.8"/>
<path d="M92.3 92.9 L91.5 97.6 L89.1 102.3 L89.9 108.4 L87.6 114.6 L86.1 117.6"/>
<path d="M117.3 122.8 L123.4 122.8 L130.3 122.8 L135.6 121.0 L140.8 119.3 L147.7 117.5 L152.1 117.9"/>
<path d="M147.7 117.5 L144.2 121.8 L139.9 127.1 L136.4 130.6 L137.3 135.8 L139.9 140.1"/>
<path d="M79.3 124.2 L78.6 130.4 L80.1 136.6 L78.6 142.7 L80.9 145.0"/>
<path d="M46.8 143.5 L50.7 145.0 L56.9 146.6 L62.4 147.3 L66.2 145.0 L69.3 143.5 L74.7 145.0 L80.9 145.0 L87.9 145.0 L94.1 145.8 L95.7 142.7 L98.7 139.6 L103.4 135.0 L104.9 130.4 L102.7 128.8 L109.6 128.0 L114.2 129.6"/>
<path d="M108.6 121.0 L106.6 124.8 L102.7 128.8"/>
<path d="M48.9 132.8 L46.8 135.0 L48.4 138.8 L46.8 143.5"/>
<path d="M46.8 143.5 L43.8 145.8 L39.9 145.4"/>
<path d="M62.4 147.3 L61.6 151.9 L56.9 154.3 L52.3 157.3 L53.1 161.3 L55.3 164.3 L58.5 167.4 L60.8 171.3 L61.6 174.3"/>
<path d="M61.6 151.9 L62.4 153.5 L66.2 156.6 L72.4 157.3 L76.3 158.9"/>
<path d="M94.1 145.8 L94.9 153.5 L94.1 159.7 L96.4 161.9 L94.8 167.6"/>
<path d="M114.2 129.6 L118.9 135.0 L117.4 141.2 L111.2 147.3 L106.5 153.5 L104.9 158.1 L108.1 161.3 L103.4 165.9 L101.9 170.5"/>
<path d="M118.9 135.0 L122.4 138.3"/>
<path d="M26.3 124.2 L28.1 130.3 L29.7 137.2 L34.1 141.5"/>
<path d="M39.9 145.4 L43.2 148.8 L44.0 157.4 L45.8 166.1 L47.5 174.8 L49.2 181.8"/>
<path d="M73.6 165.3 L72.8 174.8 L72.5 182.6 L69.9 186.9 L67.3 191.2 L67.3 198.2 L69.0 202.6 L74.2 201.7 L78.6 206.0 L80.3 208.7 L74.2 211.2 L73.4 215.6 L66.4 217.3 L68.2 221.6 L69.0 231.2 L71.6 242.5"/>
<path d="M69.0 186.9 L81.2 186.9 L89.0 182.6 L96.0 180.0 L103.3 178.3 L108.5 179.2"/>
<path d="M81.2 186.9 L83.0 193.0 L83.8 200.0 L87.4 206.0 L92.6 204.3"/>
<path d="M80.3 208.7 L87.4 206.0"/>
<path d="M49.2 181.8 L48.1 190.5 L52.5 196.5 L55.9 203.4 L60.3 211.2 L63.7 218.2 L66.4 217.3"/>
<path d="M67.3 191.2 L59.7 192.1 L52.8 192.6"/>
<path d="M177.2 106.3 L185.9 104.5 L194.6 102.0 L205.0 98.4 L208.5 100.2 L204.2 105.4 L199.8 110.6 L192.8 114.1 L187.5 118.4 L185.0 122.7 L182.3 126.3"/>
<path d="M179.7 120.2 L187.5 118.4"/>
</g>
<g fill="none" stroke="#000" stroke-width="1.3" stroke-linejoin="round" stroke-linecap="round">
<path d="M26.3 123.3 L33.3 124.2 L39.3 123.3 L42.9 126.7 L44.6 131.2 L48.9 132.8 L52.5 132.1 L52.5 129.4 L51.6 124.2 L54.2 120.7 L57.7 121.6 L59.4 124.2 L58.6 126.7 L62.1 125.1 L67.3 124.2 L69.0 120.7 L66.4 118.1 L67.3 113.8 L71.6 111.2 L76.0 107.7 L81.2 106.9 L83.8 109.4 L82.9 113.8 L79.4 116.4 L78.6 121.6 L80.3 124.2 L82.1 119.9 L84.7 117.4 L87.6 117.5 L93.8 118.4 L100.7 119.3 L108.6 121.0 L111.2 126.3 L114.6 127.1"/>
<path d="M119.9 103.6 L120.8 108.1 L122.4 114.1 L117.3 117.5 L115.5 122.8 L114.6 127.1 L119.0 129.7 L121.6 134.0 L123.4 138.3 L128.6 139.2 L132.1 141.0 L137.3 140.1 L142.6 141.0 L147.7 143.6 L152.6 144.7"/>
<path d="M48.3 183.5 L52.8 180.0 L58.8 177.4 L60.6 173.9 L66.7 170.5 L73.6 165.3 L76.3 161.0 L79.7 158.3 L85.0 161.0 L89.9 161.5 L92.0 165.5 L96.0 169.5 L98.7 172.2 L103.5 172.2 L108.2 170.2 L111.0 167.5 L115.0 165.5 L119.1 163.4 L121.8 165.5 L122.9 166.6"/>
</g>
<use href="#india" fill="none" stroke="#000" stroke-width="1.2" stroke-linejoin="round"/></g>
</g>
<g transform="translate(285.9 279.0) scale(0.977 0.9825)">
<g mask="url(#mk2)">
<g filter="url(#bld)">
<rect x="0" y="20" width="230" height="235" fill="#93abc7"/>
<ellipse cx="110" cy="108" rx="12" ry="5" fill="#c3d1c4" opacity="0.85"/>
<ellipse cx="96" cy="146" rx="10" ry="12" fill="#c3d1c4" opacity="0.85"/>
<ellipse cx="112" cy="140" rx="8" ry="8" fill="#c3d1c4" opacity="0.85"/>
<ellipse cx="84" cy="130" rx="8" ry="6" fill="#c3d1c4" opacity="0.85"/>
<ellipse cx="126" cy="150" rx="8" ry="5" fill="#c3d1c4" opacity="0.85"/>
<ellipse cx="104" cy="110" rx="9" ry="4" fill="#c3d1c4" opacity="0.85"/>
<ellipse cx="112" cy="116" rx="6" ry="3" fill="#c3d1c4" opacity="0.85"/>
<ellipse cx="96" cy="140" rx="5" ry="9" fill="#c3d1c4" opacity="0.85"/>
<ellipse cx="104" cy="152" rx="5" ry="8" fill="#c3d1c4" opacity="0.85"/>
<ellipse cx="86" cy="134" rx="6" ry="5" fill="#c3d1c4" opacity="0.85"/>
<ellipse cx="74" cy="128" rx="6" ry="4" fill="#c3d1c4" opacity="0.85"/>
<ellipse cx="118" cy="146" rx="5" ry="4" fill="#c3d1c4" opacity="0.85"/>
<ellipse cx="128" cy="126" rx="6" ry="3" fill="#c3d1c4" opacity="0.85"/>
<ellipse cx="110" cy="132" rx="4" ry="3" fill="#c3d1c4" opacity="0.85"/>
<ellipse cx="68" cy="146" rx="5" ry="3" fill="#c3d1c4" opacity="0.85"/>
<ellipse cx="92" cy="158" rx="6" ry="4" fill="#c3d1c4" opacity="0.85"/>
<ellipse cx="122" cy="156" rx="5" ry="3" fill="#c3d1c4" opacity="0.85"/>
<ellipse cx="136" cy="136" rx="4" ry="3" fill="#c3d1c4" opacity="0.85"/>
<ellipse cx="60" cy="110" rx="4" ry="6" fill="#c3d1c4" opacity="0.85"/>
<ellipse cx="90" cy="100" rx="4" ry="5" fill="#c3d1c4" opacity="0.85"/>
<ellipse cx="30" cy="140" rx="6" ry="3" fill="#c3d1c4" opacity="0.85"/>
<ellipse cx="40" cy="132" rx="3" ry="6" fill="#c3d1c4" opacity="0.85"/>
<path d="M12.0 102.0 L30.0 89.0 L44.0 80.0 L46.0 66.0 L56.0 62.0 L62.0 70.0 L62.0 84.0 L68.0 92.0 L70.0 104.0 L66.0 114.0 L56.0 120.0 L44.0 122.0 L30.0 121.0 L16.0 115.0Z" fill="#6b8fc3"/>
<ellipse cx="62" cy="108" rx="5" ry="7" fill="#7f9dc5"/>
<ellipse cx="34" cy="112" rx="5" ry="2" fill="#93abc7"/>
<ellipse cx="66" cy="64" rx="16" ry="5.5" fill="#c3d1c4"/>
<ellipse cx="72" cy="67" rx="6" ry="3" fill="#e8efbf"/>
<ellipse cx="84" cy="81" rx="9" ry="6" fill="#c3d1c4"/>
<ellipse cx="86" cy="80" rx="5" ry="3" fill="#e8efbf"/>
<ellipse cx="52" cy="162" rx="5" ry="9" fill="#6b8fc3"/>
<ellipse cx="62" cy="176" rx="8" ry="5" fill="#6b8fc3"/>
<path d="M44.0 186.0 L52.0 181.0 L60.0 175.0 L66.0 170.0 L74.0 166.0 L80.0 162.0 L88.0 164.0 L96.0 172.0 L98.0 184.0 L93.0 190.0 L95.0 210.0 L90.0 226.0 L84.0 236.0 L74.0 246.0 L66.0 236.0 L58.0 216.0 L52.0 200.0Z" fill="#6b8fc3"/>
<ellipse cx="84" cy="172" rx="7" ry="4" fill="#6b8fc3"/>
<ellipse cx="108" cy="170" rx="8" ry="3" fill="#93abc7" transform="rotate(-30 108 170)"/>
<path d="M36.4 150.0 L36.4 158.0 L37.3 164.0 L38.6 170.0 L41.0 176.3 L43.3 183.3 L46.5 190.4 L48.8 196.7 L51.2 203.7 L54.3 210.8 L57.5 217.8 L60.6 224.9 L63.7 232.7 L66.9 239.0 L70.0 242.0" fill="none" stroke="#c3d1c4" stroke-width="13" stroke-linecap="round" stroke-linejoin="round"/>
<path d="M36.4 150.0 L36.4 158.0 L37.3 164.0 L38.6 170.0 L41.0 176.3 L43.3 183.3 L46.5 190.4 L48.8 196.7 L51.2 203.7 L54.3 210.8 L57.5 217.8 L60.6 224.9 L63.7 232.7 L66.9 239.0 L70.0 242.0" fill="none" stroke="#e8efbf" stroke-width="7.5" stroke-linecap="round" stroke-linejoin="round"/>
<path d="M37.0 146.0 L36.4 152.0" fill="none" stroke="#e8efbf" stroke-width="5" stroke-linecap="round" stroke-linejoin="round"/>
<ellipse cx="55.5" cy="204" rx="1.6" ry="3" fill="#f8955d" transform="rotate(-20 55.5 204)"/>
<path d="M28.0 26.0 L100.0 26.0 L100.0 56.0 L88.0 59.0 L80.0 60.0 L72.0 58.0 L64.0 58.0 L54.0 60.0 L46.0 57.0 L28.0 50.0Z" fill="#6b8fc3"/>
<ellipse cx="43" cy="40" rx="4" ry="3" fill="#93abc7"/>
<ellipse cx="40" cy="36" rx="3" ry="2" fill="#c3d1c4"/>
<path d="M146.0 94.0 L160.0 94.0 L160.0 112.0 L146.0 112.0Z" fill="#e8efbf"/>
<path d="M186.0 93.0 L196.0 89.0 L206.0 88.0 L213.0 92.0 L217.0 98.0" fill="none" stroke="#e8efbf" stroke-width="7" stroke-linecap="round" stroke-linejoin="round"/>
<ellipse cx="200" cy="93" rx="8" ry="3.5" fill="#e8efbf" transform="rotate(-15 200 93)"/>
<ellipse cx="186" cy="139" rx="1.5" ry="1.5" fill="#4575b5"/>
<ellipse cx="208" cy="88" rx="1.3" ry="1.3" fill="#4575b5"/>
<ellipse cx="172" cy="113" rx="9" ry="4" fill="#e8efbf"/>
<ellipse cx="171" cy="117.2" rx="5" ry="1.5" fill="#f8955d"/>
<ellipse cx="170.5" cy="117.4" rx="3.2" ry="1.1" fill="#d7302a"/>
<ellipse cx="196" cy="108" rx="6" ry="3" fill="#c3d1c4" transform="rotate(-35 196 108)"/>
</g>
</g>
<g filter="url(#soft)"><g fill="none" stroke="#222" stroke-width="0.6" stroke-linejoin="round">
<path d="M55.0 67.6 L59.7 65.2 L65.1 61.4 L69.8 62.9 L75.2 65.2 L81.4 67.6 L84.5 66.0"/>
<path d="M59.7 66.8 L62.1 73.0 L66.7 77.6 L69.8 80.6 L69.8 86.8 L71.3 94.5 L72.9 102.2 L73.6 106.9"/>
<path d="M73.6 81.5 L74.4 76.8 L77.5 75.2 L82.9 76.0 L85.9 73.6"/>
<path d="M69.8 80.6 L73.6 81.5 L75.2 84.5 L81.4 86.8 L86.1 89.1 L92.3 92.9"/>
<path d="M50.4 85.3 L55.0 86.8 L59.7 84.5 L65.1 83.0 L69.8 80.6"/>
<path d="M55.0 86.8 L57.4 91.4 L56.6 95.3 L60.5 96.1 L63.6 98.3 L67.5 97.6 L68.3 94.5 L69.8 92.2"/>
<path d="M56.6 95.3 L52.8 99.9 L53.6 105.3 L48.8 111.5 L44.2 117.6 L39.5 123.8"/>
<path d="M92.3 92.9 L91.5 97.6 L89.1 102.3 L89.9 108.4 L87.6 114.6 L86.1 117.6"/>
<path d="M117.3 122.8 L123.4 122.8 L130.3 122.8 L135.6 121.0 L140.8 119.3 L147.7 117.5 L152.1 117.9"/>
<path d="M147.7 117.5 L144.2 121.8 L139.9 127.1 L136.4 130.6 L137.3 135.8 L139.9 140.1"/>
<path d="M79.3 124.2 L78.6 130.4 L80.1 136.6 L78.6 142.7 L80.9 145.0"/>
<path d="M46.8 143.5 L50.7 145.0 L56.9 146.6 L62.4 147.3 L66.2 145.0 L69.3 143.5 L74.7 145.0 L80.9 145.0 L87.9 145.0 L94.1 145.8 L95.7 142.7 L98.7 139.6 L103.4 135.0 L104.9 130.4 L102.7 128.8 L109.6 128.0 L114.2 129.6"/>
<path d="M108.6 121.0 L106.6 124.8 L102.7 128.8"/>
<path d="M48.9 132.8 L46.8 135.0 L48.4 138.8 L46.8 143.5"/>
<path d="M46.8 143.5 L43.8 145.8 L39.9 145.4"/>
<path d="M62.4 147.3 L61.6 151.9 L56.9 154.3 L52.3 157.3 L53.1 161.3 L55.3 164.3 L58.5 167.4 L60.8 171.3 L61.6 174.3"/>
<path d="M61.6 151.9 L62.4 153.5 L66.2 156.6 L72.4 157.3 L76.3 158.9"/>
<path d="M94.1 145.8 L94.9 153.5 L94.1 159.7 L96.4 161.9 L94.8 167.6"/>
<path d="M114.2 129.6 L118.9 135.0 L117.4 141.2 L111.2 147.3 L106.5 153.5 L104.9 158.1 L108.1 161.3 L103.4 165.9 L101.9 170.5"/>
<path d="M118.9 135.0 L122.4 138.3"/>
<path d="M26.3 124.2 L28.1 130.3 L29.7 137.2 L34.1 141.5"/>
<path d="M39.9 145.4 L43.2 148.8 L44.0 157.4 L45.8 166.1 L47.5 174.8 L49.2 181.8"/>
<path d="M73.6 165.3 L72.8 174.8 L72.5 182.6 L69.9 186.9 L67.3 191.2 L67.3 198.2 L69.0 202.6 L74.2 201.7 L78.6 206.0 L80.3 208.7 L74.2 211.2 L73.4 215.6 L66.4 217.3 L68.2 221.6 L69.0 231.2 L71.6 242.5"/>
<path d="M69.0 186.9 L81.2 186.9 L89.0 182.6 L96.0 180.0 L103.3 178.3 L108.5 179.2"/>
<path d="M81.2 186.9 L83.0 193.0 L83.8 200.0 L87.4 206.0 L92.6 204.3"/>
<path d="M80.3 208.7 L87.4 206.0"/>
<path d="M49.2 181.8 L48.1 190.5 L52.5 196.5 L55.9 203.4 L60.3 211.2 L63.7 218.2 L66.4 217.3"/>
<path d="M67.3 191.2 L59.7 192.1 L52.8 192.6"/>
<path d="M177.2 106.3 L185.9 104.5 L194.6 102.0 L205.0 98.4 L208.5 100.2 L204.2 105.4 L199.8 110.6 L192.8 114.1 L187.5 118.4 L185.0 122.7 L182.3 126.3"/>
<path d="M179.7 120.2 L187.5 118.4"/>
</g>
<g fill="none" stroke="#000" stroke-width="1.3" stroke-linejoin="round" stroke-linecap="round">
<path d="M26.3 123.3 L33.3 124.2 L39.3 123.3 L42.9 126.7 L44.6 131.2 L48.9 132.8 L52.5 132.1 L52.5 129.4 L51.6 124.2 L54.2 120.7 L57.7 121.6 L59.4 124.2 L58.6 126.7 L62.1 125.1 L67.3 124.2 L69.0 120.7 L66.4 118.1 L67.3 113.8 L71.6 111.2 L76.0 107.7 L81.2 106.9 L83.8 109.4 L82.9 113.8 L79.4 116.4 L78.6 121.6 L80.3 124.2 L82.1 119.9 L84.7 117.4 L87.6 117.5 L93.8 118.4 L100.7 119.3 L108.6 121.0 L111.2 126.3 L114.6 127.1"/>
<path d="M119.9 103.6 L120.8 108.1 L122.4 114.1 L117.3 117.5 L115.5 122.8 L114.6 127.1 L119.0 129.7 L121.6 134.0 L123.4 138.3 L128.6 139.2 L132.1 141.0 L137.3 140.1 L142.6 141.0 L147.7 143.6 L152.6 144.7"/>
<path d="M48.3 183.5 L52.8 180.0 L58.8 177.4 L60.6 173.9 L66.7 170.5 L73.6 165.3 L76.3 161.0 L79.7 158.3 L85.0 161.0 L89.9 161.5 L92.0 165.5 L96.0 169.5 L98.7 172.2 L103.5 172.2 L108.2 170.2 L111.0 167.5 L115.0 165.5 L119.1 163.4 L121.8 165.5 L122.9 166.6"/>
</g>
<use href="#india" fill="none" stroke="#000" stroke-width="1.2" stroke-linejoin="round"/></g>
</g>
<g fill="#1a1a1a" filter="url(#soft)">
<text x="17.1" y="13.9" font-size="10.2" textLength="196.6" lengthAdjust="spacingAndGlyphs">MME mean Before bias Anomaly (1981-2014)</text>
<text x="304.2" y="11.1" font-size="10.3" textLength="192.4" lengthAdjust="spacingAndGlyphs">MME mean After bias Anomaly (1981-2014)</text>
<text x="115.5" y="285.0" font-size="8.1" text-anchor="middle">Correlation</text>
<text x="22" y="295.0" font-size="8.3" textLength="187.3" lengthAdjust="spacingAndGlyphs">(IMD observed and MME mean rainfall 1981-2014)</text>
<text x="392" y="290.8" font-size="7.8" text-anchor="middle">RMSE</text>
<text x="300.8" y="300.2" font-size="8.1" textLength="182.5" lengthAdjust="spacingAndGlyphs">(IMD observed and MME mean rainfall 1981-2014)</text>
</g>
<g class="ser" fill="#111" font-size="15.2" text-anchor="middle" letter-spacing="-0.25">
<text class="ser" x="117.9" y="269.2">(<tspan font-weight="bold">a</tspan>)</text>
<text class="ser" x="394.0" y="269.5">(<tspan font-weight="bold">b</tspan>)</text>
<text class="ser" x="117.9" y="543.6">(<tspan font-weight="bold">c</tspan>)</text>
<text class="ser" x="394.0" y="543.3">(<tspan font-weight="bold">d</tspan>)</text>
</g>
<g filter="url(#soft)">
<rect x="139.4" y="157.8" width="9.0" height="4.0" fill="#fff" stroke="#000" stroke-width="1.5"/>
<rect x="139.4" y="164.0" width="9.0" height="4.0" fill="#fff" stroke="#333" stroke-width="0.5"/>
<text x="150.2" y="161.0" font-size="3.35" fill="#333">India Homogeneous Region</text>
<text x="150.2" y="167.2" font-size="3.35" fill="#333">India Meteorological Subdivison</text>
<text x="139.4" y="174.8" font-size="3.9" font-weight="bold" fill="#222">Rainfall anomaly</text>
<rect x="139.9" y="177.10" width="8.2" height="3.8" fill="#4575b5" stroke="#777" stroke-opacity="0.45" stroke-width="0.3"/>
<text x="150.2" y="180.10" font-size="3.35" fill="#222">&lt;-2.5</text>
<rect x="139.9" y="183.27" width="8.2" height="3.8" fill="#6b8fc3" stroke="#777" stroke-opacity="0.45" stroke-width="0.3"/>
<text x="150.2" y="186.27" font-size="3.35" fill="#222">-2.5–0</text>
<rect x="139.9" y="189.44" width="8.2" height="3.8" fill="#93abc7" stroke="#777" stroke-opacity="0.45" stroke-width="0.3"/>
<text x="150.2" y="192.44" font-size="3.35" fill="#222">0 – 1</text>
<rect x="139.9" y="195.61" width="8.2" height="3.8" fill="#bccbc4" stroke="#777" stroke-opacity="0.45" stroke-width="0.3"/>
<text x="150.2" y="198.61" font-size="3.35" fill="#222">1 – 1.5</text>
<rect x="139.9" y="201.78" width="8.2" height="3.8" fill="#e8efbf" stroke="#777" stroke-opacity="0.45" stroke-width="0.3"/>
<text x="150.2" y="204.78" font-size="3.35" fill="#222">1.5 – 2</text>
<rect x="139.9" y="207.95" width="8.2" height="3.8" fill="#fee69c" stroke="#777" stroke-opacity="0.45" stroke-width="0.3"/>
<text x="150.2" y="210.95" font-size="3.35" fill="#222">2 – 2.5</text>
<rect x="139.9" y="214.12" width="8.2" height="3.8" fill="#fdbd7e" stroke="#777" stroke-opacity="0.45" stroke-width="0.3"/>
<text x="150.2" y="217.12" font-size="3.35" fill="#222">2.5 – 3</text>
<rect x="139.9" y="220.29" width="8.2" height="3.8" fill="#f8955d" stroke="#777" stroke-opacity="0.45" stroke-width="0.3"/>
<text x="150.2" y="223.29" font-size="3.35" fill="#222">3 – 3.5</text>
<rect x="139.9" y="226.46" width="8.2" height="3.8" fill="#ea6240" stroke="#777" stroke-opacity="0.45" stroke-width="0.3"/>
<text x="150.2" y="229.46" font-size="3.35" fill="#222">3.5 – 4</text>
<rect x="139.9" y="232.63" width="8.2" height="3.8" fill="#d7302a" stroke="#777" stroke-opacity="0.45" stroke-width="0.3"/>
<text x="150.2" y="235.63" font-size="3.35" fill="#222">&gt;4</text>
<rect x="425.2" y="158.8" width="9.3" height="4.1" fill="#fff" stroke="#000" stroke-width="1.5"/>
<rect x="425.2" y="165.0" width="9.3" height="4.1" fill="#fff" stroke="#333" stroke-width="0.5"/>
<text x="436.8" y="162.05" font-size="3.35" fill="#333">India Homogeneous Region</text>
<text x="436.8" y="168.25" font-size="3.35" fill="#333">India Meteorological Subdivison</text>
<text x="425.2" y="176.0" font-size="4.0" font-weight="bold" fill="#222">Rainfall anomaly</text>
<rect x="425.7" y="178.30" width="8.5" height="3.9" fill="#4575b5" stroke="#777" stroke-opacity="0.45" stroke-width="0.3"/>
<text x="436.8" y="181.35" font-size="3.35" fill="#222">&lt;-2.5</text>
<rect x="425.7" y="184.70" width="8.5" height="3.9" fill="#6b8fc3" stroke="#777" stroke-opacity="0.45" stroke-width="0.3"/>
<text x="436.8" y="187.75" font-size="3.35" fill="#222">-2.5–0</text>
<rect x="425.7" y="191.10" width="8.5" height="3.9" fill="#93abc7" stroke="#777" stroke-opacity="0.45" stroke-width="0.3"/>
<text x="436.8" y="194.15" font-size="3.35" fill="#222">0 – 1</text>
<rect x="425.7" y="197.50" width="8.5" height="3.9" fill="#bccbc4" stroke="#777" stroke-opacity="0.45" stroke-width="0.3"/>
<text x="436.8" y="200.55" font-size="3.35" fill="#222">1 – 1.5</text>
<rect x="425.7" y="203.90" width="8.5" height="3.9" fill="#e8efbf" stroke="#777" stroke-opacity="0.45" stroke-width="0.3"/>
<text x="436.8" y="206.95" font-size="3.35" fill="#222">1.5 – 2</text>
<rect x="425.7" y="210.30" width="8.5" height="3.9" fill="#fee69c" stroke="#777" stroke-opacity="0.45" stroke-width="0.3"/>
<text x="436.8" y="213.35" font-size="3.35" fill="#222">2 – 2.5</text>
<rect x="425.7" y="216.70" width="8.5" height="3.9" fill="#fdbd7e" stroke="#777" stroke-opacity="0.45" stroke-width="0.3"/>
<text x="436.8" y="219.75" font-size="3.35" fill="#222">2.5 – 3</text>
<rect x="425.7" y="223.10" width="8.5" height="3.9" fill="#f8955d" stroke="#777" stroke-opacity="0.45" stroke-width="0.3"/>
<text x="436.8" y="226.15" font-size="3.35" fill="#222">3 – 3.5</text>
<rect x="425.7" y="229.50" width="8.5" height="3.9" fill="#ea6240" stroke="#777" stroke-opacity="0.45" stroke-width="0.3"/>
<text x="436.8" y="232.55" font-size="3.35" fill="#222">3.5 – 4</text>
<rect x="425.7" y="235.90" width="8.5" height="3.9" fill="#d7302a" stroke="#777" stroke-opacity="0.45" stroke-width="0.3"/>
<text x="436.8" y="238.95" font-size="3.35" fill="#222">&gt;4</text>
<rect x="132.0" y="440.1" width="9.3" height="4.2" fill="#fff" stroke="#000" stroke-width="1.5"/>
<rect x="132.0" y="446.70000000000005" width="9.3" height="4.2" fill="#fff" stroke="#333" stroke-width="0.5"/>
<text x="143.4" y="443.40000000000003" font-size="3.47" fill="#333">india_Homogeneous</text>
<text x="143.4" y="450.00000000000006" font-size="3.47" fill="#333">imd_subdivision</text>
<text x="132.0" y="455.4" font-size="4.17" font-weight="bold" fill="#222">Correlation</text>
<rect x="132.5" y="457.80" width="8.5" height="4.0" fill="#d7402f" stroke="#777" stroke-opacity="0.45" stroke-width="0.3"/>
<text x="143.4" y="460.90" font-size="3.47" fill="#222">&lt;-0.2</text>
<rect x="132.5" y="464.22" width="8.5" height="4.0" fill="#e26a4a" stroke="#777" stroke-opacity="0.45" stroke-width="0.3"/>
<text x="143.4" y="467.32" font-size="3.47" fill="#222">-0.2 – -0.1</text>
<rect x="132.5" y="470.64" width="8.5" height="4.0" fill="#ee9a76" stroke="#777" stroke-opacity="0.45" stroke-width="0.3"/>
<text x="143.4" y="473.74" font-size="3.47" fill="#222">-0.1–0</text>
<rect x="132.5" y="477.06" width="8.5" height="4.0" fill="#f7c594" stroke="#777" stroke-opacity="0.45" stroke-width="0.3"/>
<text x="143.4" y="480.16" font-size="3.47" fill="#222">0 – 0.1</text>
<rect x="132.5" y="483.48" width="8.5" height="4.0" fill="#fbe5a3" stroke="#777" stroke-opacity="0.45" stroke-width="0.3"/>
<text x="143.4" y="486.58" font-size="3.47" fill="#222">0.1– 0.2</text>
<rect x="132.5" y="489.90" width="8.5" height="4.0" fill="#c0c4b0" stroke="#777" stroke-opacity="0.45" stroke-width="0.3"/>
<text x="143.4" y="493.00" font-size="3.47" fill="#222">0.2 – 0.3</text>
<rect x="132.5" y="496.32" width="8.5" height="4.0" fill="#b5bccb" stroke="#777" stroke-opacity="0.45" stroke-width="0.3"/>
<text x="143.4" y="499.42" font-size="3.47" fill="#222">0.3 – 0.4</text>
<rect x="132.5" y="502.74" width="8.5" height="4.0" fill="#96a7d0" stroke="#777" stroke-opacity="0.45" stroke-width="0.3"/>
<text x="143.4" y="505.84" font-size="3.47" fill="#222">0.4 – 0.5</text>
<rect x="132.5" y="509.16" width="8.5" height="4.0" fill="#6f8dd3" stroke="#777" stroke-opacity="0.45" stroke-width="0.3"/>
<text x="143.4" y="512.26" font-size="3.47" fill="#222">0.5 – 0.6</text>
<rect x="132.5" y="515.58" width="8.5" height="4.0" fill="#3a65d5" stroke="#777" stroke-opacity="0.45" stroke-width="0.3"/>
<text x="143.4" y="518.68" font-size="3.47" fill="#222">&gt;0.6</text>
<rect x="408.2" y="441.6" width="9.1" height="4.0" fill="#fff" stroke="#000" stroke-width="1.5"/>
<rect x="408.2" y="447.6" width="9.1" height="4.0" fill="#fff" stroke="#333" stroke-width="0.5"/>
<text x="419.3" y="444.8" font-size="3.25" fill="#333">india_Homogeneous</text>
<text x="419.3" y="450.8" font-size="3.25" fill="#333">imd_subdivision</text>
<text x="408.2" y="456.9" font-size="3.87" font-weight="bold" fill="#222">RMSE (mm/day)</text>
<rect x="408.7" y="459.00" width="8.299999999999999" height="3.8" fill="#4575b5" stroke="#777" stroke-opacity="0.45" stroke-width="0.3"/>
<text x="419.3" y="462.00" font-size="3.25" fill="#222">&lt;1</text>
<rect x="408.7" y="465.15" width="8.299999999999999" height="3.8" fill="#6b8fc3" stroke="#777" stroke-opacity="0.45" stroke-width="0.3"/>
<text x="419.3" y="468.15" font-size="3.25" fill="#222">1–3</text>
<rect x="408.7" y="471.30" width="8.299999999999999" height="3.8" fill="#93abc7" stroke="#777" stroke-opacity="0.45" stroke-width="0.3"/>
<text x="419.3" y="474.30" font-size="3.25" fill="#222">3–5</text>
<rect x="408.7" y="477.45" width="8.299999999999999" height="3.8" fill="#bccbc4" stroke="#777" stroke-opacity="0.45" stroke-width="0.3"/>
<text x="419.3" y="480.45" font-size="3.25" fill="#222">5–10</text>
<rect x="408.7" y="483.60" width="8.299999999999999" height="3.8" fill="#e8efbf" stroke="#777" stroke-opacity="0.45" stroke-width="0.3"/>
<text x="419.3" y="486.60" font-size="3.25" fill="#222">10–15</text>
<rect x="408.7" y="489.75" width="8.299999999999999" height="3.8" fill="#fee69c" stroke="#777" stroke-opacity="0.45" stroke-width="0.3"/>
<text x="419.3" y="492.75" font-size="3.25" fill="#222">15–20</text>
<rect x="408.7" y="495.90" width="8.299999999999999" height="3.8" fill="#fdbd7e" stroke="#777" stroke-opacity="0.45" stroke-width="0.3"/>
<text x="419.3" y="498.90" font-size="3.25" fill="#222">20–25</text>
<rect x="408.7" y="502.05" width="8.299999999999999" height="3.8" fill="#f8955d" stroke="#777" stroke-opacity="0.45" stroke-width="0.3"/>
<text x="419.3" y="505.05" font-size="3.25" fill="#222">25–30</text>
<rect x="408.7" y="508.20" width="8.299999999999999" height="3.8" fill="#ea6240" stroke="#777" stroke-opacity="0.45" stroke-width="0.3"/>
<text x="419.3" y="511.20" font-size="3.25" fill="#222">30–45</text>
<rect x="408.7" y="514.35" width="8.299999999999999" height="3.8" fill="#d7302a" stroke="#777" stroke-opacity="0.45" stroke-width="0.3"/>
<text x="419.3" y="517.35" font-size="3.25" fill="#222">&gt;45</text>
</g>
</svg></body></html>
